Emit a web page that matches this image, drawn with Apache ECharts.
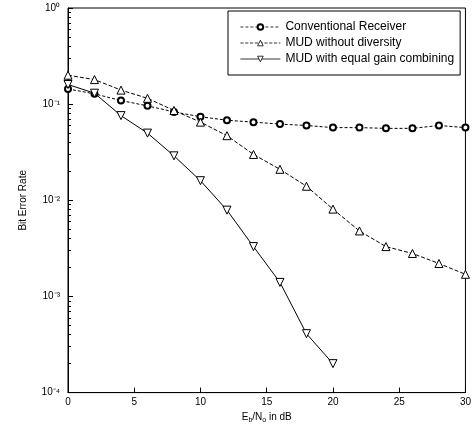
<!DOCTYPE html><html><head><script src="https://cdn.jsdelivr.net/npm/echarts@6/dist/echarts.min.js"></script></head><body style="margin:0;background:#fff"><div id="c" style="width:474px;height:429px"></div><script>
var xs=[0,2,4,6,8,10,12,14,16,18,20,22,24,26,28,30];
var conv=[0.144,0.128,0.109,0.096,0.083,0.074,0.068,0.065,0.062,0.06,0.057,0.057,0.056,0.056,0.06,0.057];
var mud=[0.2,0.18,0.14,0.115,0.086,0.065,0.047,0.03,0.021,0.014,0.0081,0.0048,0.0033,0.0028,0.0022,0.0017];
var egc=[0.16,0.13,0.076,0.05,0.029,0.016,0.0079,0.0033,0.0014,0.00041,0.0002];
var names=['Conventional Receiver','MUD without diversity','MUD with equal gain combining'];
function pts(a){return a.map(function(v,i){return [xs[i],v];});}
var sup={'-1':'⁻¹','-2':'⁻²','-3':'⁻³','-4':'⁻⁴','0':'⁰'};
var c=echarts.init(document.getElementById('c'));
c.setOption({
 animation:false,
 grid:{left:68,right:6,top:8,bottom:31,show:true,borderColor:'#000',borderWidth:1},
 legend:{data:names,orient:'vertical',left:228,top:11,itemWidth:40,itemHeight:7,itemGap:4,
  backgroundColor:'#fff',borderColor:'#000',borderWidth:1,padding:[10,6,10,12],
  lineStyle:{width:0.8},itemStyle:{borderWidth:0.8},
  textStyle:{fontFamily:'Liberation Sans Narrow, Liberation Sans',fontSize:12,color:'#000'}},
 xAxis:{type:'value',min:0,max:30,interval:5,
  name:'{a|E}{s|b}{a|/N}{s|o}{a| in dB}',nameLocation:'middle',nameGap:18,
  nameTextStyle:{rich:{a:{fontSize:10,fontFamily:'Liberation Sans',color:'#000'},s:{fontSize:7,fontFamily:'Liberation Sans',color:'#000',verticalAlign:'bottom',padding:[6,0,0,0]}}},
  axisLine:{lineStyle:{color:'#000'}},axisTick:{inside:true,length:5,lineStyle:{color:'#000'}},
  axisLabel:{fontSize:10,color:'#000',margin:5,fontFamily:'Liberation Sans'},splitLine:{show:false}},
 yAxis:{type:'log',min:1e-4,max:1,logBase:10,
  name:'Bit Error Rate',nameLocation:'middle',nameGap:40,nameTextStyle:{fontSize:10,color:'#000',fontFamily:'Liberation Sans'},
  axisLine:{lineStyle:{color:'#000'}},axisTick:{inside:true,length:5,lineStyle:{color:'#000'}},
  minorTick:{show:true,splitNumber:9,length:3,lineStyle:{color:'#000'}},
  axisLabel:{fontSize:10,color:'#000',fontFamily:'Liberation Sans',formatter:function(v){var e=Math.round(Math.log10(v));return '10'+sup[String(e)];}},
  splitLine:{show:false}},
 series:[
  {name:names[0],type:'line',data:pts(conv),symbol:'emptyCircle',symbolSize:6,lineStyle:{color:'#000',width:1,type:[3,2]},itemStyle:{color:'#000',borderColor:'#000',borderWidth:1}},
  {name:names[1],type:'line',data:pts(mud),symbol:'triangle',symbolSize:8,lineStyle:{color:'#000',width:1,type:'dashed'},itemStyle:{color:'#fff',borderColor:'#000',borderWidth:1}},
  {name:names[2],type:'line',data:pts(egc),symbol:'triangle',symbolRotate:180,symbolSize:8,lineStyle:{color:'#000',width:1},itemStyle:{color:'#fff',borderColor:'#000',borderWidth:1}}
 ]
});
</script></body></html>
